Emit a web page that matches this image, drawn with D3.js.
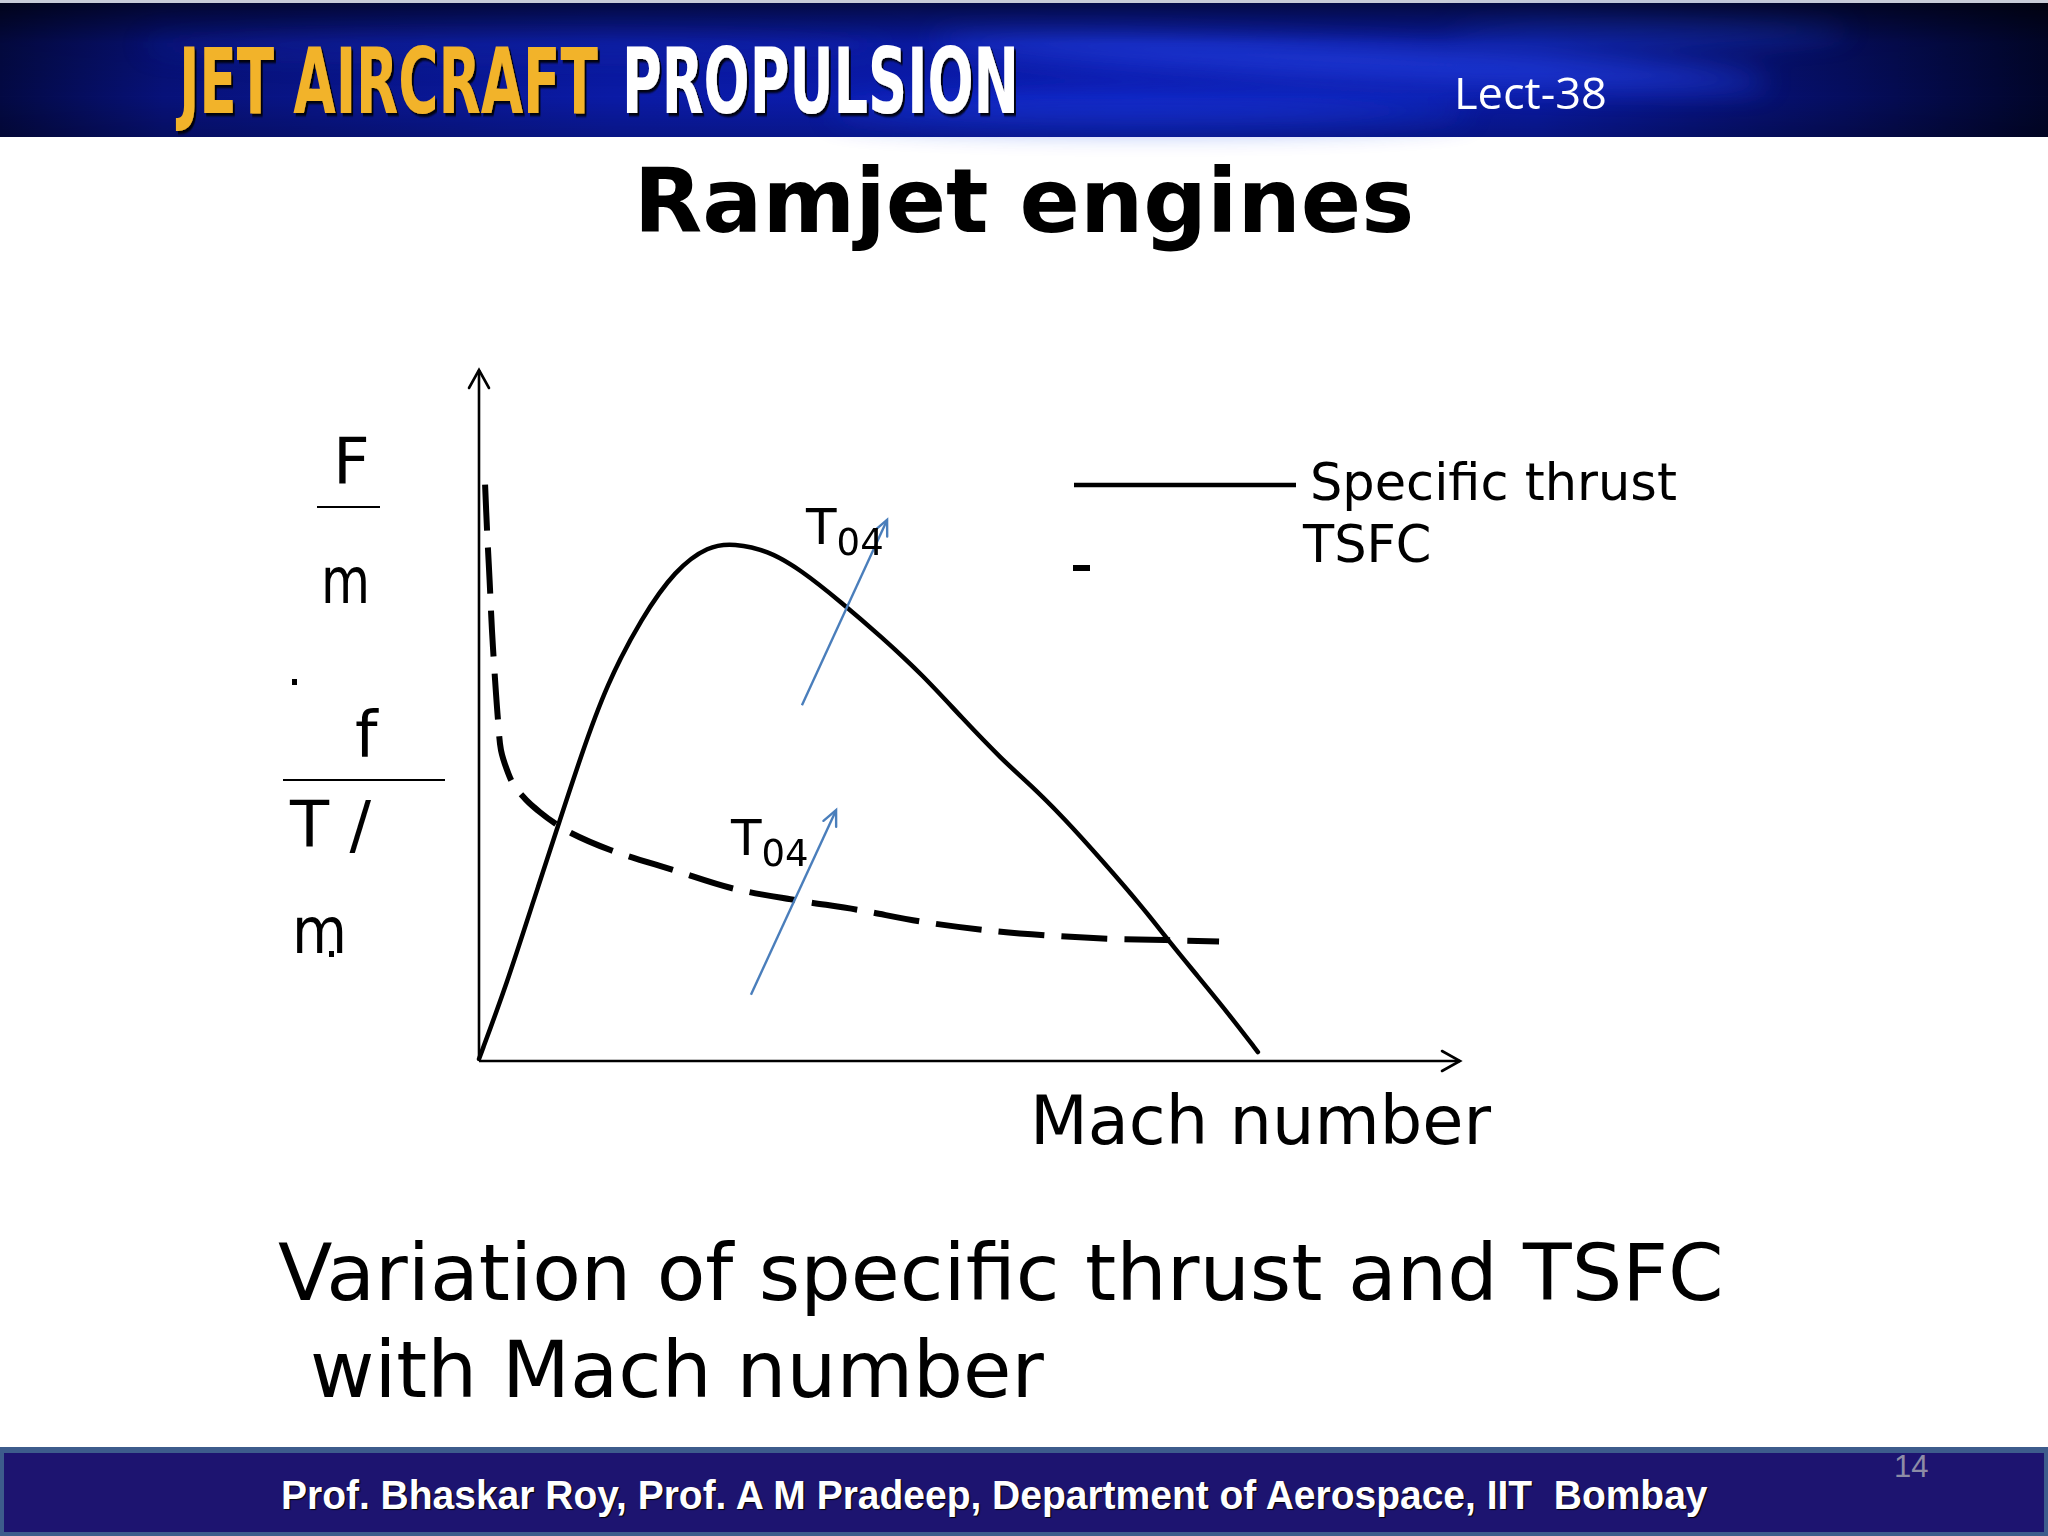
<!DOCTYPE html>
<html>
<head>
<meta charset="utf-8">
<script src="https://cdn.jsdelivr.net/npm/d3@7"></script>
<style>
  html, body { margin: 0; padding: 0; background: #ffffff; }
  svg { display: block; }
</style>
</head>
<body>
<script>
// ---------------- DATA ----------------
// Specific thrust (solid) vs Mach number
const machThrust = [0, 0.14, 0.28, 0.40, 0.52, 0.65, 0.83, 1.00, 1.17, 1.30, 1.47, 1.64, 1.85, 2.05, 2.26, 2.46, 2.67, 2.81, 2.98, 3.18, 3.39, 3.52, 3.66, 3.83, 3.97];
const specificThrust = [0.3, 11.0, 23.4, 33.8, 44.2, 54.5, 64.2, 71.1, 74.6, 74.9, 73.9, 71.1, 66.3, 61.4, 55.9, 49.7, 43.5, 40.0, 35.2, 28.9, 22.0, 17.2, 12.4, 6.5, 1.3];
// TSFC (dashed) vs Mach number
const machTsfc = [0.031, 0.041, 0.054, 0.066, 0.082, 0.097, 0.112, 0.143, 0.178, 0.240, 0.311, 0.387, 0.469, 0.673, 0.994, 1.290, 1.611, 1.927, 2.248, 2.564, 2.885, 3.201, 3.497, 3.772];
const tsfcValues = [83.4, 76.8, 69.6, 62.4, 55.1, 49.3, 45.0, 42.1, 39.9, 37.8, 36.0, 34.4, 33.0, 30.5, 27.6, 25.0, 23.3, 21.9, 20.2, 19.0, 18.2, 17.7, 17.5, 17.3];
// "T04 increases" arrows: [machStart, valueStart, machEnd, valueEnd]
const t04ArrowThrust = [1.646, 51.5, 2.080, 78.3];
const t04ArrowTsfc = [1.386, 9.6, 1.820, 36.3];
// label anchors for the T04 annotations (mach, value)
const t04Labels = [[1.667, 74.8], [1.284, 29.8]];
const legendLabels = ["Specific thrust", "TSFC"];
const axisDomainX = [0, 5];
const axisDomainY = [0, 100];

// ---------------- SETUP ----------------
const W = 2048, H = 1536;
const svg = d3.select("body").append("svg")
  .attr("width", W).attr("height", H)
  .attr("viewBox", `0 0 ${W} ${H}`);
const defs = svg.append("defs");

// fit a text horizontally to a target width with a scale transform (keeps bbox honest)
function fitText(sel, x0, y0, width) {
  const nat = sel.node().getComputedTextLength();
  const k = nat > 0 ? width / nat : 1;
  sel.attr("x", 0).attr("y", 0).attr("transform", `translate(${x0},${y0}) scale(${k},1)`);
  return sel;
}

// header gradient
const hg = defs.append("linearGradient").attr("id", "hdr").attr("x1", "0").attr("x2", "1").attr("y1", "0").attr("y2", "0");
[["0%", "#040a44"], ["8%", "#08127a"], ["30%", "#0b1ba6"], ["55%", "#0c1db4"], ["75%", "#0a1aa2"], ["90%", "#060e60"], ["100%", "#02062a"]]
  .forEach(([o, c]) => hg.append("stop").attr("offset", o).attr("stop-color", c));
const hv = defs.append("linearGradient").attr("id", "hdrv").attr("x1", "0").attr("x2", "0").attr("y1", "0").attr("y2", "1");
[["0%", "#000000", 0.6], ["30%", "#000000", 0.1], ["70%", "#000000", 0], ["100%", "#000000", 0.2]]
  .forEach(([o, c, a]) => hv.append("stop").attr("offset", o).attr("stop-color", c).attr("stop-opacity", a));
defs.append("filter").attr("id", "blur").attr("x", "-50%").attr("y", "-50%").attr("width", "200%").attr("height", "200%")
  .append("feGaussianBlur").attr("stdDeviation", 14);
const sh = defs.append("filter").attr("id", "shadow").attr("x", "-10%").attr("y", "-10%").attr("width", "130%").attr("height", "130%");
sh.append("feDropShadow").attr("dx", 3).attr("dy", 3).attr("stdDeviation", 1).attr("flood-color", "#000").attr("flood-opacity", 0.9);

// markers
function chevron(id, color, len, half, width) {
  defs.append("marker").attr("id", id)
    .attr("markerUnits", "userSpaceOnUse")
    .attr("viewBox", `${-len - 4} ${-half - 4} ${len + 8} ${2 * half + 8}`)
    .attr("refX", 0).attr("refY", 0)
    .attr("markerWidth", len + 8).attr("markerHeight", 2 * half + 8)
    .attr("orient", "auto")
    .append("path").attr("d", `M${-len},${-half} L0,0 L${-len},${half}`)
    .attr("fill", "none").attr("stroke", color).attr("stroke-width", width)
    .attr("stroke-linecap", "round").attr("stroke-linejoin", "miter");
}
chevron("axArrow", "#000", 18, 10, 2.6);
chevron("blueArrow", "#4a7ebb", 15, 7, 2.4);

// ---------------- HEADER ----------------
const header = svg.append("g");
header.append("rect").attr("x", 0).attr("y", 0).attr("width", W).attr("height", 3).attr("fill", "#c8ccd8");
header.append("rect").attr("x", 0).attr("y", 3).attr("width", W).attr("height", 134).attr("fill", "url(#hdr)");
const streaks = header.append("g").attr("filter", "url(#blur)").attr("opacity", 0.7);
streaks.append("ellipse").attr("cx", 1350).attr("cy", 60).attr("rx", 420).attr("ry", 16).attr("fill", "#2a4cff").attr("transform", "rotate(3 1350 60)");
streaks.append("ellipse").attr("cx", 1150).attr("cy", 112).attr("rx", 320).attr("ry", 14).attr("fill", "#1f3de8");
streaks.append("ellipse").attr("cx", 520).attr("cy", 45).attr("rx", 380).attr("ry", 12).attr("fill", "#1a34d8").attr("opacity", 0.6);
streaks.append("ellipse").attr("cx", 1650).attr("cy", 30).attr("rx", 200).attr("ry", 10).attr("fill", "#2b55ff").attr("opacity", 0.7);
header.append("rect").attr("x", 0).attr("y", 3).attr("width", W).attr("height", 134).attr("fill", "url(#hdrv)");

const hdrFont = "'DejaVu Sans Condensed', 'DejaVu Sans', sans-serif";
fitText(header.append("text")
  .attr("font-family", hdrFont).attr("font-weight", "bold").attr("font-size", 90)
  .attr("fill", "#f2b32a").attr("filter", "url(#shadow)")
  .text("JET AIRCRAFT"), 179, 113, 419);
fitText(header.append("text")
  .attr("font-family", hdrFont).attr("font-weight", "bold").attr("font-size", 90)
  .attr("fill", "#ffffff").attr("filter", "url(#shadow)")
  .text("PROPULSION"), 622, 113, 397);
fitText(header.append("text")
  .attr("font-family", "'Open Sans', 'DejaVu Sans', sans-serif")
  .attr("font-size", 44).attr("fill", "#ffffff")
  .text("Lect-38"), 1454, 109, 153);

// ---------------- TITLE ----------------
svg.append("text").attr("x", 1024).attr("y", 232)
  .attr("text-anchor", "middle")
  .attr("font-family", "'DejaVu Sans', Verdana, sans-serif")
  .attr("font-weight", "bold").attr("font-size", 89)
  .attr("fill", "#000")
  .text("Ramjet engines");

// ---------------- CHART ----------------
const x = d3.scaleLinear().domain(axisDomainX).range([479, 1460]);
const y = d3.scaleLinear().domain(axisDomainY).range([1061, 370]);

const chart = svg.append("g");

// axes (drawn from the scales)
chart.append("line")
  .attr("x1", x(axisDomainX[0])).attr("y1", y(axisDomainY[0]))
  .attr("x2", x(axisDomainX[0])).attr("y2", y(axisDomainY[1]))
  .attr("stroke", "#000").attr("stroke-width", 2.6).attr("marker-end", "url(#axArrow)");
chart.append("line")
  .attr("x1", x(axisDomainX[0])).attr("y1", y(axisDomainY[0]))
  .attr("x2", x(axisDomainX[1])).attr("y2", y(axisDomainY[0]))
  .attr("stroke", "#000").attr("stroke-width", 2.6).attr("marker-end", "url(#axArrow)");

const smoothLine = d3.line().x(d => x(d[0])).y(d => y(d[1])).curve(d3.curveBasis);
const tsfcLine = d3.line().x(d => x(d[0])).y(d => y(d[1])).curve(d3.curveCatmullRom.alpha(0.5));

const thrustPts = machThrust.map((m, i) => [m, specificThrust[i]]);
const tsfcPts = machTsfc.map((m, i) => [m, tsfcValues[i]]);

chart.append("path").datum(tsfcPts)
  .attr("d", tsfcLine).attr("fill", "none").attr("stroke", "#000")
  .attr("stroke-width", 6).attr("stroke-dasharray", "46,17");

chart.append("path").datum(thrustPts)
  .attr("d", smoothLine).attr("fill", "none").attr("stroke", "#000")
  .attr("stroke-width", 4.5).attr("stroke-linecap", "round").attr("stroke-linejoin", "round");

// T04 arrows
[t04ArrowThrust, t04ArrowTsfc].forEach(a => {
  chart.append("line")
    .attr("x1", x(a[0])).attr("y1", y(a[1]))
    .attr("x2", x(a[2])).attr("y2", y(a[3]))
    .attr("stroke", "#4a7ebb").attr("stroke-width", 2.4)
    .attr("marker-end", "url(#blueArrow)");
});

// T04 labels
t04Labels.forEach(p => {
  const t = chart.append("text").attr("x", x(p[0])).attr("y", y(p[1]))
    .attr("font-family", "'DejaVu Sans', Verdana, sans-serif")
    .attr("font-size", 50).attr("fill", "#000");
  t.append("tspan").text("T");
  t.append("tspan").attr("font-size", 37).attr("dy", 11).text("04");
});

// legend
const legend = svg.append("g").attr("font-family", "'DejaVu Sans', Verdana, sans-serif").attr("fill", "#000");
legend.append("line").attr("x1", 1074).attr("x2", 1296).attr("y1", 485).attr("y2", 485)
  .attr("stroke", "#000").attr("stroke-width", 4.5);
legend.append("text").attr("x", 1310).attr("y", 500).attr("font-size", 51).text(legendLabels[0]);
legend.append("rect").attr("x", 1073).attr("y", 565).attr("width", 17).attr("height", 6).attr("fill", "#000");
legend.append("text").attr("x", 1303).attr("y", 562).attr("font-size", 51).text(legendLabels[1]);

// x-axis label
svg.append("text").attr("x", 1030).attr("y", 1144)
  .attr("font-family", "'DejaVu Sans', Verdana, sans-serif")
  .attr("font-size", 67).attr("fill", "#000")
  .text("Mach number");

// y-axis label (stacked fractions F/m and f/(T/m))
const yl = svg.append("g").attr("font-family", "'DejaVu Sans', Verdana, sans-serif").attr("font-size", 64).attr("fill", "#000");
yl.append("text").attr("x", 333).attr("y", 483).text("F");
yl.append("line").attr("x1", 317).attr("x2", 380).attr("y1", 507).attr("y2", 507).attr("stroke", "#000").attr("stroke-width", 2.2);
fitText(yl.append("text").text("m"), 321, 603, 49);
yl.append("rect").attr("x", 292).attr("y", 679).attr("width", 5).attr("height", 6);
yl.append("text").attr("x", 355).attr("y", 757).text("f");
yl.append("line").attr("x1", 283).attr("x2", 445).attr("y1", 780).attr("y2", 780).attr("stroke", "#000").attr("stroke-width", 2.2);
yl.append("text").attr("x", 290).attr("y", 847).text("T /");
fitText(yl.append("text").text("m"), 292, 953, 55);
yl.append("rect").attr("x", 329).attr("y", 951).attr("width", 5).attr("height", 6);

// caption
const cap = svg.append("g").attr("font-family", "'DejaVu Sans', Verdana, sans-serif").attr("font-size", 79).attr("fill", "#000");
fitText(cap.append("text").text("Variation of specific thrust and TSFC"), 278, 1300, 1446);
fitText(cap.append("text").text("with Mach number"), 310, 1397, 734);

// ---------------- FOOTER ----------------
const footer = svg.append("g");
footer.append("rect").attr("x", 0).attr("y", 1447).attr("width", W).attr("height", 89).attr("fill", "#3d5c8c");
footer.append("rect").attr("x", 4).attr("y", 1453).attr("width", W - 8).attr("height", 79).attr("fill", "#1d1470");
fitText(footer.append("text")
  .attr("font-family", "'Liberation Sans', Arial, sans-serif")
  .attr("font-weight", "bold").attr("font-size", 40)
  .attr("fill", "#ffffff")
  .attr("style", "text-shadow: 1px 1px 1px #000; white-space: pre")
  .text("Prof. Bhaskar Roy, Prof. A M Pradeep, Department of Aerospace, IIT  Bombay"), 281, 1509, 1427);
footer.append("text").attr("x", 1894).attr("y", 1477)
  .attr("font-family", "'Liberation Sans Narrow', 'Liberation Sans', Arial, sans-serif")
  .attr("font-size", 31).attr("fill", "#8c8ca6")
  .text("14");
</script>
</body>
</html>
